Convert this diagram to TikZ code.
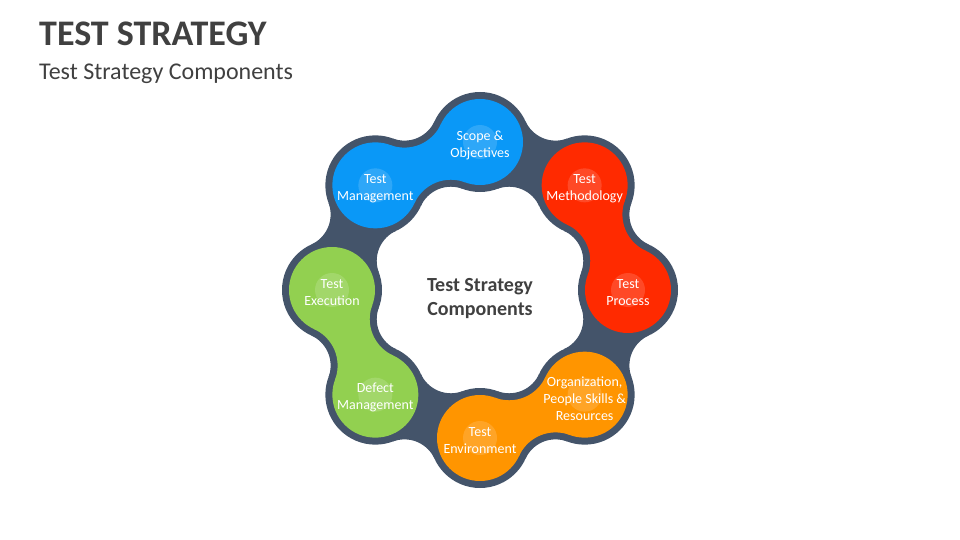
\documentclass[tikz,border=0pt]{standalone}
\usepackage{fontspec}
\setmainfont{Carlito}
\usetikzlibrary{calc}
\definecolor{ringdark}{HTML}{44546A}
\definecolor{cblue}{HTML}{0A98F7}
\definecolor{cred}{HTML}{FF2A00}
\definecolor{corange}{HTML}{FF9500}
\definecolor{cgreen}{HTML}{92D050}
\definecolor{txtdark}{HTML}{404040}
\newcommand\mkneck[5]{%
  \coordinate (nkM) at ($(#1)!0.5!(#2)$);
  \coordinate (nkC1) at ($(nkM)!60.67pt!90:(#2)$);
  \coordinate (nkC2) at ($(nkM)!60.67pt!-90:(#2)$);
  \coordinate (nkA1) at ($(#1)!#3!(nkC1)$);
  \coordinate (nkA2) at ($(#1)!#3!(nkC2)$);
  \coordinate (nkB1) at ($(#2)!#3!(nkC1)$);
  \coordinate (nkB2) at ($(#2)!#3!(nkC2)$);
  \begin{scope}[even odd rule]
    \clip (-10,-10) rectangle (970,550)
      (nkC1) circle (#4) (nkC2) circle (#4);
    \fill[#5] (nkA1)--(nkB1)--(nkB2)--(nkA2)--cycle;
  \end{scope}}
\tikzset{
  lbl/.style={text=white, align=center, inner sep=0pt, font=\fontsize{14}{17}\selectfont},
  faint/.style={fill=white, fill opacity=0.15},
}
\begin{document}
\begin{tikzpicture}[x=1pt,y=-1pt]
\useasboundingbox (0,0) rectangle (960,540);
\node[anchor=base west, inner sep=0pt, text=txtdark] (title) at (39,46)
  {\fontsize{36}{40}\selectfont\bfseries TEST STRATEGY};
\node[anchor=base west, inner sep=0pt, text=txtdark] (subtitle) at (39,80)
  {\fontsize{24}{28}\selectfont Test Strategy Components};

\coordinate (O) at (480,290);
\coordinate (scope) at ($(O)+(270:148)$);
\coordinate (meth) at ($(O)+(315:148)$);
\coordinate (proc) at ($(O)+(0:148)$);
\coordinate (org) at ($(O)+(45:148)$);
\coordinate (env) at ($(O)+(90:148)$);
\coordinate (defect) at ($(O)+(135:148)$);
\coordinate (exec) at ($(O)+(180:148)$);
\coordinate (mgmt) at ($(O)+(225:148)$);

% dark ring
\mkneck{mgmt}{scope}{50pt}{33pt}{ringdark}
\mkneck{scope}{meth}{50pt}{33pt}{ringdark}
\mkneck{meth}{proc}{50pt}{33pt}{ringdark}
\mkneck{proc}{org}{50pt}{33pt}{ringdark}
\mkneck{org}{env}{50pt}{33pt}{ringdark}
\mkneck{env}{defect}{50pt}{33pt}{ringdark}
\mkneck{defect}{exec}{50pt}{33pt}{ringdark}
\mkneck{exec}{mgmt}{50pt}{33pt}{ringdark}
\foreach \c in {scope,meth,proc,org,env,defect,exec,mgmt}
  \fill[ringdark] (\c) circle (50pt);

% coloured pairs
\mkneck{mgmt}{scope}{43pt}{40pt}{cblue}
\mkneck{meth}{proc}{43pt}{40pt}{cred}
\mkneck{org}{env}{43pt}{40pt}{corange}
\mkneck{exec}{defect}{43pt}{40pt}{cgreen}
\foreach \c/\col in {scope/cblue,mgmt/cblue,meth/cred,proc/cred,org/corange,env/corange,defect/cgreen,exec/cgreen}{
  \fill[\col] (\c) circle (43pt);
  \fill[faint] (\c) circle (17pt);
}

\node[lbl] (tscope) at ($(scope)+(0,3)$) {Scope \&\\Objectives};
\node[lbl] (tmeth) at ($(meth)+(0,3)$) {Test\\Methodology};
\node[lbl] (tproc) at ($(proc)+(0,3)$) {Test\\Process};
\node[lbl] (torg) at ($(org)+(0,4.5)$) {Organization,\\People Skills \&\\Resources};
\node[lbl] (tenv) at ($(env)+(0,3)$) {Test\\Environment};
\node[lbl] (tdefect) at ($(defect)+(0,3)$) {Defect\\Management};
\node[lbl] (texec) at ($(exec)+(0,3)$) {Test\\Execution};
\node[lbl] (tmgmt) at ($(mgmt)+(0,3)$) {Test\\Management};

\node[align=center, text=txtdark, inner sep=0pt, font=\fontsize{20}{23.5}\selectfont\bfseries] (center) at (480,298.5)
  {Test Strategy\\Components};
\end{tikzpicture}
\end{document}
